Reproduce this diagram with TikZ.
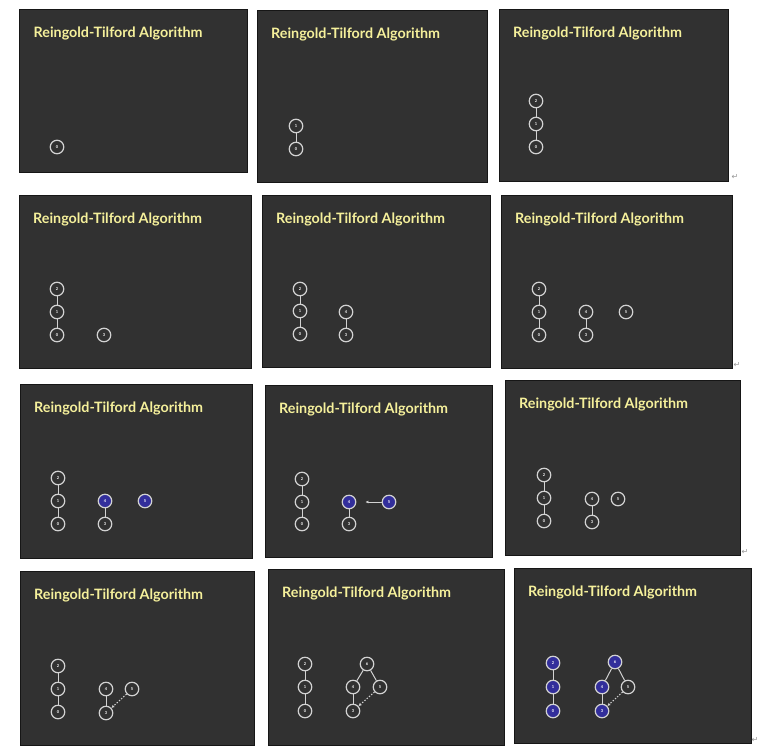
\documentclass[tikz,border=0pt]{standalone}
\usepackage{fontspec}
\setsansfont{Lato}
\newfontfamily\markfont{DejaVu Sans}
\usetikzlibrary{arrows.meta}
\definecolor{slidebg}{RGB}{49,49,49}
\definecolor{slideedge}{RGB}{22,22,22}
\definecolor{titlecol}{RGB}{245,240,155}
\definecolor{ringcol}{RGB}{210,210,210}
\definecolor{hlcol}{RGB}{50,46,155}
\definecolor{markcol}{RGB}{150,150,150}
\tikzstyle{slide}=[fill=slidebg,draw=slideedge,line width=0.8pt]
\tikzstyle{slidetitle}=[anchor=base west,inner sep=0pt,text=titlecol,font=\sffamily\bfseries\fontsize{14.3}{16}\selectfont]
\tikzstyle{vtx}=[circle,draw=ringcol,fill=slidebg,line width=1.2pt,minimum size=13.5pt,inner sep=0pt,text=white,font=\sffamily\bfseries\fontsize{4}{4}\selectfont]
\tikzstyle{vtxhl}=[vtx,fill=hlcol]
\tikzstyle{link}=[draw=ringcol,line width=1pt]
\tikzstyle{thread}=[link,dash pattern=on 1.5pt off 1.5pt,-{Latex[length=3pt,width=3pt]}]
\tikzstyle{pilcrow}=[text=markcol,font=\markfont\fontsize{8}{8}\selectfont,inner sep=0pt]
\newcommand{\drawslide}[3]{% title name, width, height
	\path[slide] (0,0) rectangle (#2,#3);
	\node[slidetitle] (#1) at (14,28.5) {Reingold-Tilford Algorithm};
}
\newcommand{\linkall}[2][]{
	\foreach \u/\v in {#2}{
		\draw[link,#1] (\u) -- (\v);
	}
}

\begin{document}
\begin{tikzpicture}[x=1pt,y=-1pt]
\useasboundingbox[fill=white] (0,0) rectangle (759,755);
% 1: root alone
\begin{scope}[shift={(19.5,9)}]
\drawslide{ta}{227.5}{163}
\node[vtx] (a0) at (37.5,138) {0};
\end{scope}

% 2: 1 above 0
\begin{scope}[shift={(257,10)}]
\drawslide{tb}{230}{172}
\node[vtx] (b0) at (39,139) {0};
\node[vtx] (b1) at (39,116) {1};
\linkall{b1/b0}
\end{scope}

% 3: left chain 2-1-0
\begin{scope}[shift={(499,9)}]
\drawslide{tc}{229}{172}
\node[vtx] (c0) at (37,138) {0};
\node[vtx] (c1) at (37,115) {1};
\node[vtx] (c2) at (37,92) {2};
\linkall{c2/c1,c1/c0}
\end{scope}
\node[pilcrow] (mc) at (735,177) {↵};

% 4: leaf 3
\begin{scope}[shift={(19,195)}]
\drawslide{td}{232}{173}
\node[vtx] (d0) at (38,140) {0};
\node[vtx] (d1) at (38,117) {1};
\node[vtx] (d2) at (38,94) {2};
\node[vtx] (d3) at (85,140) {3};
\linkall{d2/d1,d1/d0}
\end{scope}

% 5: 4 over 3
\begin{scope}[shift={(262,195)}]
\drawslide{te}{228}{172}
\node[vtx] (e0) at (38,139) {0};
\node[vtx] (e1) at (38,116) {1};
\node[vtx] (e2) at (38,94) {2};
\node[vtx] (e3) at (84,140) {3};
\node[vtx] (e4) at (84,117) {4};
\linkall{e2/e1,e1/e0,e4/e3}
\end{scope}

% 6: leaf 5
\begin{scope}[shift={(501,195)}]
\drawslide{tf}{231}{173}
\node[vtx] (f0) at (38,140) {0};
\node[vtx] (f1) at (38,117) {1};
\node[vtx] (f2) at (38,94) {2};
\node[vtx] (f3) at (85,140) {3};
\node[vtx] (f4) at (85,117) {4};
\node[vtx] (f5) at (125,117) {5};
\linkall{f2/f1,f1/f0,f4/f3}
\end{scope}
\node[pilcrow] (mf) at (737,365) {↵};

% 7: 4 and 5 marked
\begin{scope}[shift={(20,384)}]
\drawslide{tg}{232}{174}
\node[vtx] (g0) at (38,140) {0};
\node[vtx] (g1) at (38,117) {1};
\node[vtx] (g2) at (38,94) {2};
\node[vtx] (g3) at (85,140) {3};
\node[vtxhl] (g4) at (85,117) {4};
\node[vtxhl] (g5) at (125,117) {5};
\linkall{g2/g1,g1/g0,g4/g3}
\end{scope}

% 8: shift 5 towards 4
\begin{scope}[shift={(265,385)}]
\drawslide{th}{227}{172}
\node[vtx] (h0) at (37,139) {0};
\node[vtx] (h1) at (37,117) {1};
\node[vtx] (h2) at (37,94) {2};
\node[vtx] (h3) at (84,139) {3};
\node[vtxhl] (h4) at (84,117) {4};
\node[vtxhl] (h5) at (124,117) {5};
\linkall{h2/h1,h1/h0,h4/h3}
\draw[link,-{Latex[length=3pt,width=3pt]},shorten >=9pt] (h5) -- (h4);
\end{scope}

% 9: 5 moved in
\begin{scope}[shift={(505,380)}]
\drawslide{ti}{235}{175}
\node[vtx] (i0) at (39,141) {0};
\node[vtx] (i1) at (39,118) {1};
\node[vtx] (i2) at (39,95) {2};
\node[vtx] (i3) at (87,142) {3};
\node[vtx] (i4) at (87,119) {4};
\node[vtx] (i5) at (113,119) {5};
\linkall{i2/i1,i1/i0,i4/i3}
\end{scope}
\node[pilcrow] (mi) at (745,552) {↵};

% 10: thread 5 -> 3
\begin{scope}[shift={(20,571)}]
\drawslide{tj}{234}{174}
\node[vtx] (j0) at (38,141) {0};
\node[vtx] (j1) at (38,118) {1};
\node[vtx] (j2) at (38,95) {2};
\node[vtx] (j3) at (86,142) {3};
\node[vtx] (j4) at (86,118) {4};
\node[vtx] (j5) at (112,118) {5};
\linkall{j2/j1,j1/j0,j4/j3}
\draw[thread] (j5) -- (j3);
\end{scope}

% 11: parent 6
\begin{scope}[shift={(268,569)}]
\drawslide{tk}{236}{176}
\node[vtx] (k0) at (37,142) {0};
\node[vtx] (k1) at (37,118) {1};
\node[vtx] (k2) at (37,95) {2};
\node[vtx] (k3) at (85,142) {3};
\node[vtx] (k4) at (85,118) {4};
\node[vtx] (k5) at (112,118) {5};
\node[vtx] (k6) at (99,95) {6};
\linkall{k2/k1,k1/k0,k4/k3,k6/k4,k6/k5}
\draw[thread] (k5) -- (k3);
\end{scope}

% 12: contours marked
\begin{scope}[shift={(514,568)}]
\drawslide{tl}{237}{175}
\node[vtxhl] (l0) at (39,143) {0};
\node[vtxhl] (l1) at (39,119) {1};
\node[vtxhl] (l2) at (39,95) {2};
\node[vtxhl] (l3) at (88,143) {3};
\node[vtxhl] (l4) at (88,119) {4};
\node[vtx] (l5) at (114,119) {5};
\node[vtxhl] (l6) at (101,94) {6};
\linkall{l2/l1,l1/l0,l4/l3,l6/l4,l6/l5}
\draw[thread] (l5) -- (l3);
\end{scope}
\node[pilcrow] (ml) at (755,740) {↵};
\end{tikzpicture}
\end{document}
